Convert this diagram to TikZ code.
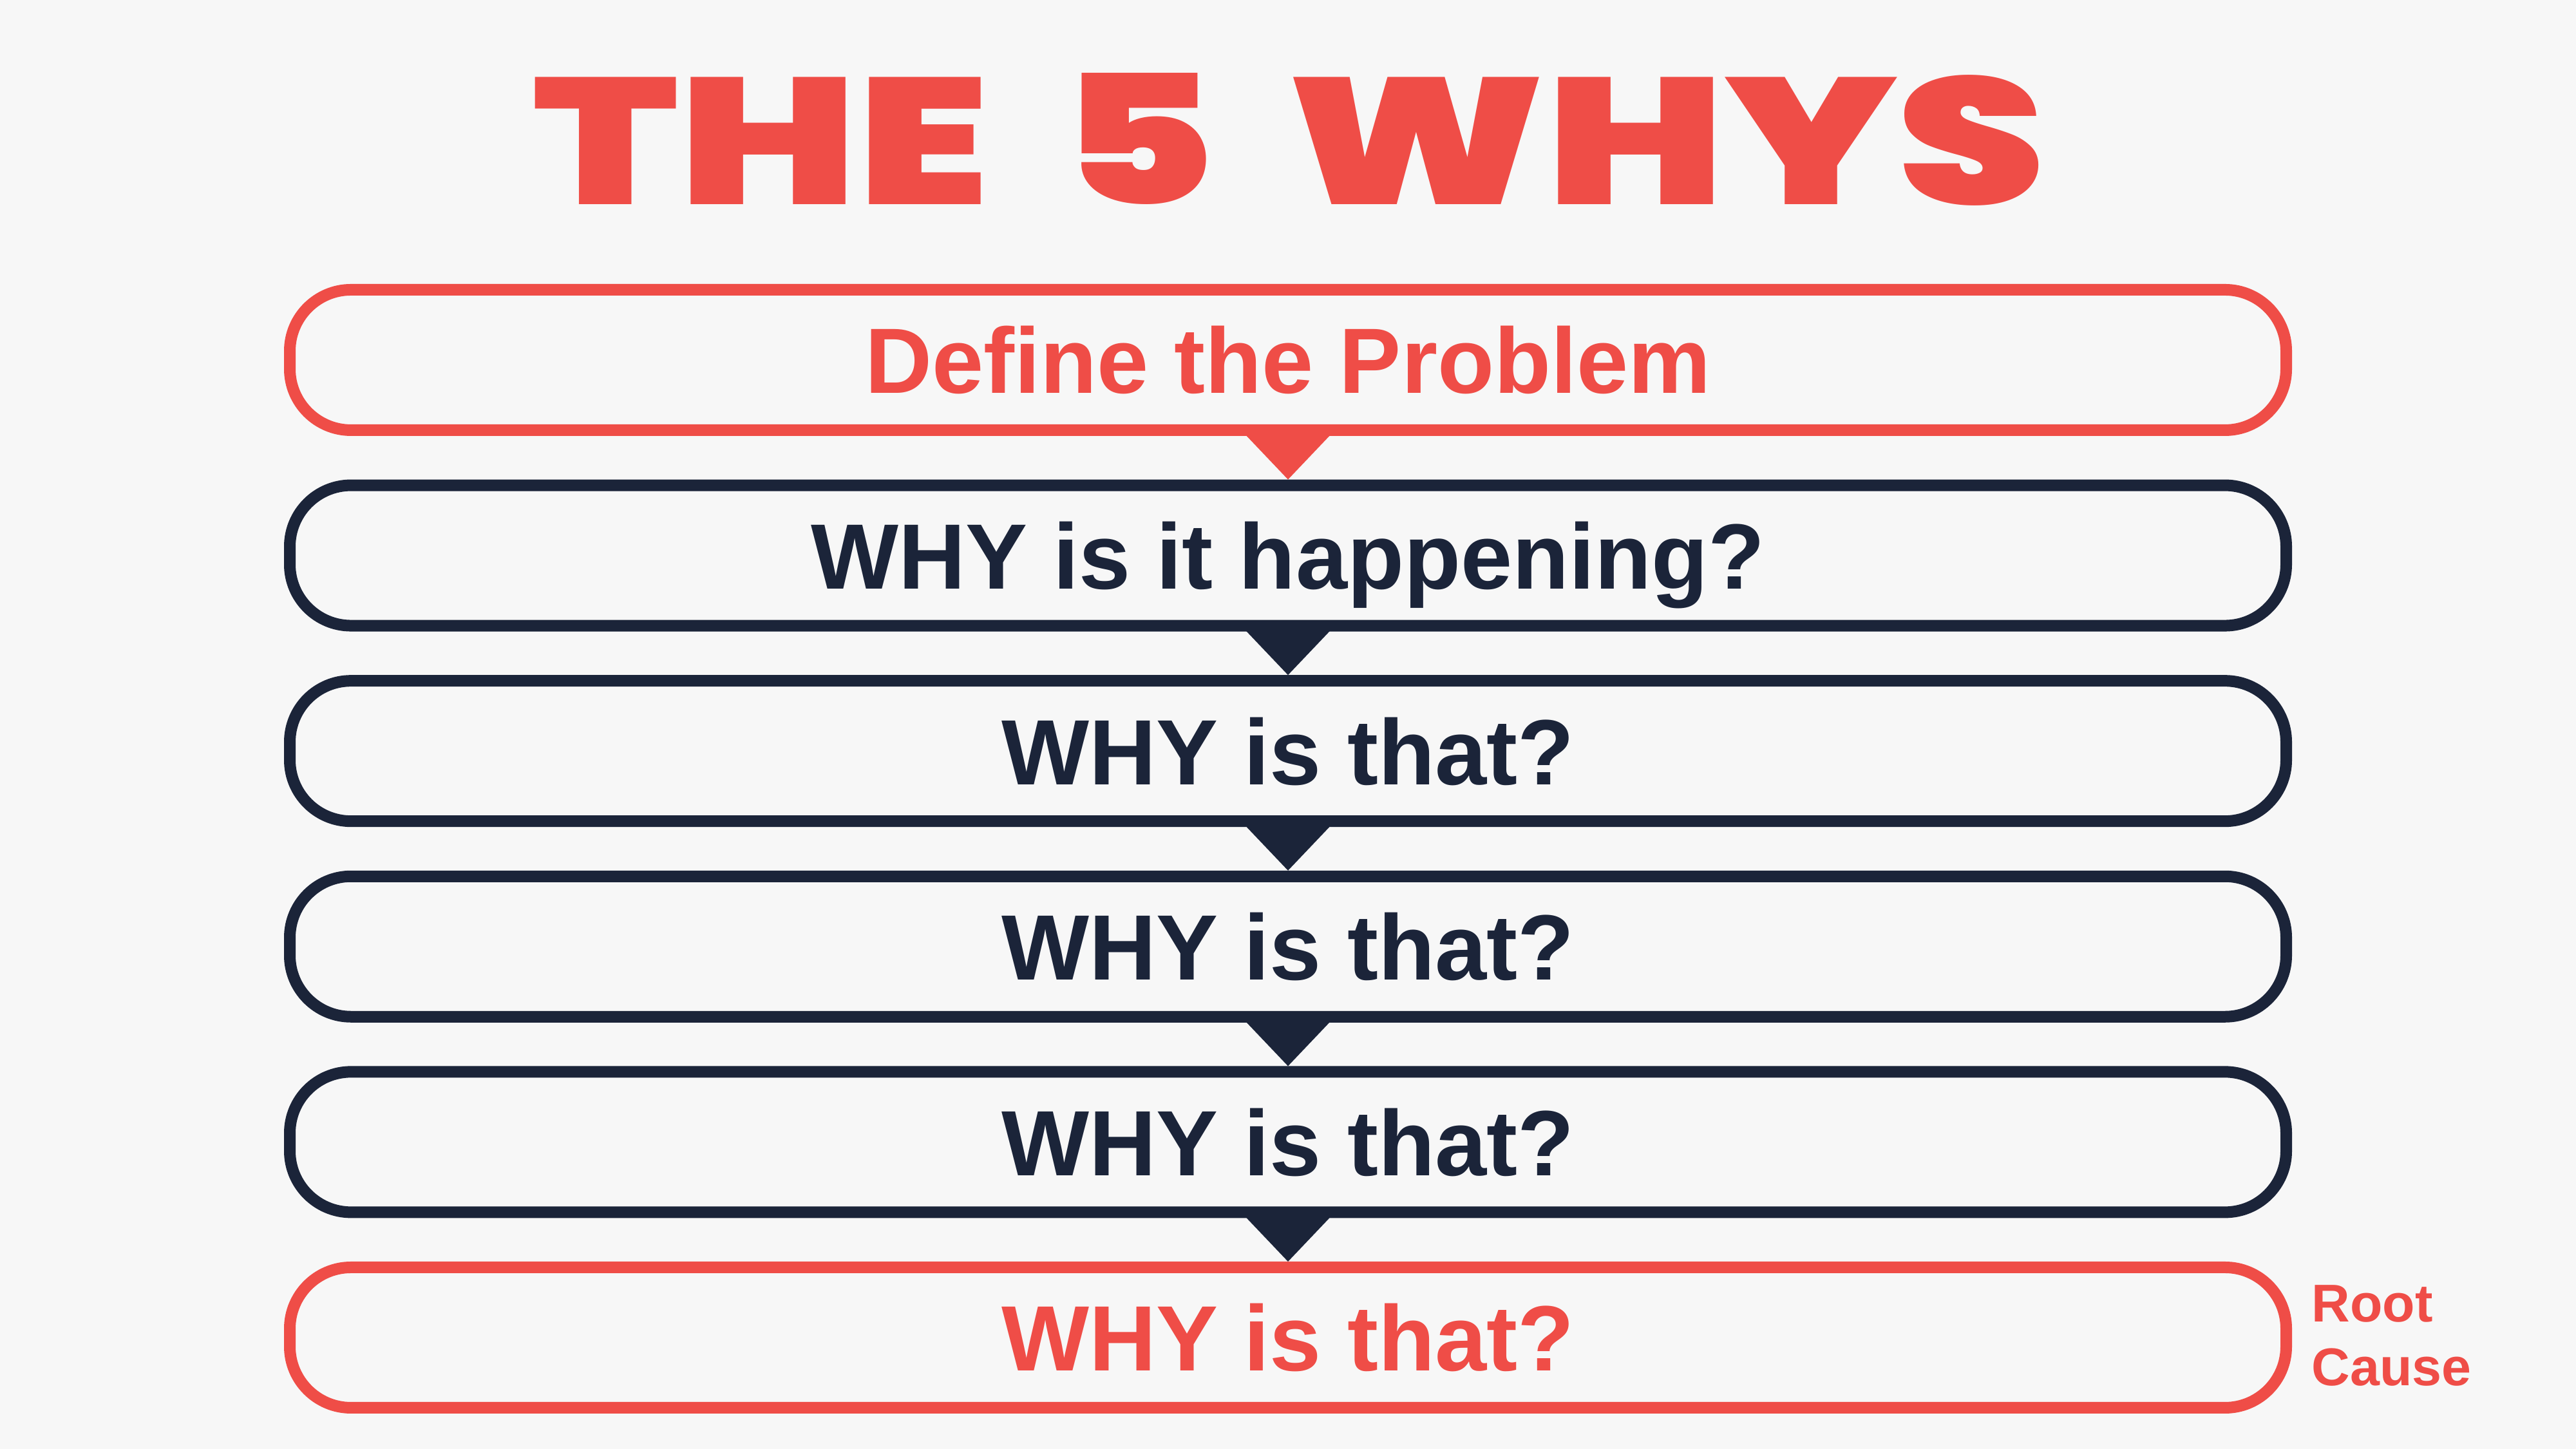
\documentclass[tikz,border=0pt]{standalone}
\usepackage{fontspec}
\setmainfont{Liberation Sans}
\newfontfamily\titlefont{Poppins Black}
\usetikzlibrary{calc}
\definecolor{wred}{HTML}{EF4D47}
\definecolor{wnavy}{HTML}{1B2439}
\definecolor{bgc}{HTML}{F7F7F7}
\begin{document}
\begin{tikzpicture}[x=1cm,y=1cm,
  whybox/.style={draw=#1, line width=0.18cm, rounded corners=0.95cm,
    minimum width=31cm, minimum height=2.18cm, inner sep=0pt},
  whytext/.style={text=#1, anchor=base, inner sep=0pt,
    font=\fontsize{41}{49}\selectfont\bfseries},
  pointer/.style={fill=#1}]
\fill[bgc] (0,0) rectangle (40,22.5);
\useasboundingbox (0,0) rectangle (40,22.5);

% title
\node[text=wred, inner sep=0pt, font=\titlefont] (title) at (20.02,20.33)
  {\resizebox{23.47cm}{2.04cm}{THE\hspace{0.3em}5\hspace{0.3em}WHYS}};

% boxes
\node[whybox=wred]  (b0) at (20,16.910) {};
\node[whybox=wnavy] (b1) at (20,13.874) {};
\node[whybox=wnavy] (b2) at (20,10.838) {};
\node[whybox=wnavy] (b3) at (20,7.802) {};
\node[whybox=wnavy] (b4) at (20,4.766) {};
\node[whybox=wred]  (b5) at (20,1.730) {};

% texts
\node[whytext=wred]  (t0) at ([yshift=-0.52cm]b0.center) {Define the Problem};
\node[whytext=wnavy] (t1) at ([yshift=-0.52cm]b1.center) {WHY is it happening?};
\node[whytext=wnavy] (t2) at ([yshift=-0.52cm]b2.center) {WHY is that?};
\node[whytext=wnavy] (t3) at ([yshift=-0.52cm]b3.center) {WHY is that?};
\node[whytext=wnavy] (t4) at ([yshift=-0.52cm]b4.center) {WHY is that?};
\node[whytext=wred]  (t5) at ([yshift=-0.52cm]b5.center) {WHY is that?};

% pointers
\fill[pointer=wred]  ([xshift=-0.7cm,yshift=0.06cm]b0.south) -- ([xshift=0.7cm,yshift=0.06cm]b0.south) -- (b1.north) -- cycle;
\fill[pointer=wnavy] ([xshift=-0.7cm,yshift=0.06cm]b1.south) -- ([xshift=0.7cm,yshift=0.06cm]b1.south) -- (b2.north) -- cycle;
\fill[pointer=wnavy] ([xshift=-0.7cm,yshift=0.06cm]b2.south) -- ([xshift=0.7cm,yshift=0.06cm]b2.south) -- (b3.north) -- cycle;
\fill[pointer=wnavy] ([xshift=-0.7cm,yshift=0.06cm]b3.south) -- ([xshift=0.7cm,yshift=0.06cm]b3.south) -- (b4.north) -- cycle;
\fill[pointer=wnavy] ([xshift=-0.7cm,yshift=0.06cm]b4.south) -- ([xshift=0.7cm,yshift=0.06cm]b4.south) -- (b5.north) -- cycle;

% root cause label
\node[anchor=west, align=left, inner sep=0pt, text=wred,
  font=\fontsize{23.5}{28.4}\selectfont\bfseries] (rc) at ([xshift=0.3cm,yshift=0.03cm]b5.east) {Root\\Cause};
\end{tikzpicture}
\end{document}
